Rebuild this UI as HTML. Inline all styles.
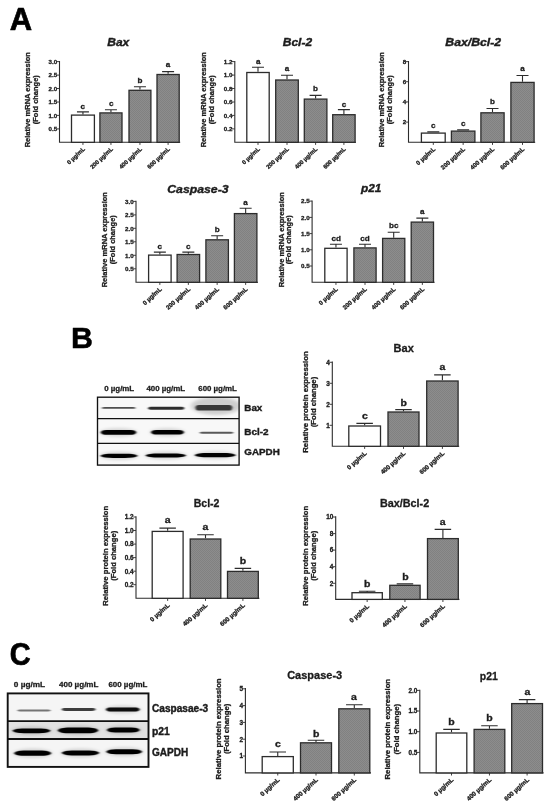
<!DOCTYPE html>
<html lang="en"><head><meta charset="utf-8"><title>Figure</title>
<style>
html,body{margin:0;padding:0;background:#fff;}
svg{display:block;filter:blur(0.35px);}
text{font-family:"Liberation Sans",Arial,Helvetica,sans-serif;fill:#1c1c1c;}
.b{font-weight:700;stroke:#1c1c1c;stroke-width:0.3px;}
.bi{font-weight:700;font-style:italic;stroke:#1c1c1c;stroke-width:0.4px;}
.big{font-weight:700;fill:#000;stroke:#000;stroke-width:0.7px;stroke-linejoin:round;}
</style></head><body>
<svg width="550" height="808" viewBox="0 0 550 808">
<defs>
<pattern id="hatch" width="2" height="2" patternUnits="userSpaceOnUse">
<rect width="2" height="2" fill="#8d8d8d"/>
<rect width="1" height="1" fill="#818181"/>
<rect x="1" y="1" width="1" height="1" fill="#818181"/>
</pattern>
<filter id="bl1" x="-20%" y="-100%" width="140%" height="300%"><feGaussianBlur stdDeviation="0.9 0.7"/></filter>
<filter id="bl2" x="-20%" y="-100%" width="140%" height="300%"><feGaussianBlur stdDeviation="1.3 0.9"/></filter>
<filter id="bl3" x="-60%" y="-200%" width="220%" height="500%"><feGaussianBlur stdDeviation="2.2 1.8"/></filter>
<clipPath id="clipB1"><rect x="97.5" y="397.2" width="141.6" height="21.3"/></clipPath>
<linearGradient id="bgB" x1="0" y1="0" x2="0" y2="1"><stop offset="0" stop-color="#ededed"/><stop offset="1" stop-color="#f4f4f4"/></linearGradient>
</defs>
<rect width="550" height="808" fill="#fff"/>

<text x="9.8" y="30" font-size="31.6" class="big" textLength="22.4" lengthAdjust="spacingAndGlyphs">A</text>
<text x="70.9" y="348.3" font-size="30.4" class="big" style="stroke-width:0.5px">B</text>
<text x="9.8" y="665.2" font-size="31.4" class="big" textLength="20.9" lengthAdjust="spacingAndGlyphs">C</text>
<g><path d="M59.5 61.0V142.3H180.2" fill="none" stroke="#2c2c2c" stroke-width="1.1"/>
<path d="M56.7 61.6H59.5" stroke="#2c2c2c" stroke-width="0.9"/>
<text x="57.10" y="63.83" font-size="6.2" text-anchor="end" class="b">3.0</text>
<path d="M56.7 75.1H59.5" stroke="#2c2c2c" stroke-width="0.9"/>
<text x="57.10" y="77.33" font-size="6.2" text-anchor="end" class="b">2.5</text>
<path d="M56.7 88.5H59.5" stroke="#2c2c2c" stroke-width="0.9"/>
<text x="57.10" y="90.73" font-size="6.2" text-anchor="end" class="b">2.0</text>
<path d="M56.7 102H59.5" stroke="#2c2c2c" stroke-width="0.9"/>
<text x="57.10" y="104.23" font-size="6.2" text-anchor="end" class="b">1.5</text>
<path d="M56.7 115.4H59.5" stroke="#2c2c2c" stroke-width="0.9"/>
<text x="57.10" y="117.63" font-size="6.2" text-anchor="end" class="b">1.0</text>
<path d="M56.7 128.9H59.5" stroke="#2c2c2c" stroke-width="0.9"/>
<text x="57.10" y="131.13" font-size="6.2" text-anchor="end" class="b">0.5</text>
<path d="M82.95 114.4V111.9M76.95 111.9H88.95" stroke="#2c2c2c" stroke-width="1.1" fill="none"/>
<rect x="71.50" y="115.10" width="22.90" height="27.20" fill="#fff" stroke="#2c2c2c" stroke-width="1.3"/>
<path d="M82.95 142.3V144.9" stroke="#2c2c2c" stroke-width="0.9"/>
<path d="M110.95 112.2V109.7M104.95 109.7H116.95" stroke="#2c2c2c" stroke-width="1.1" fill="none"/>
<rect x="99.90" y="112.90" width="22.10" height="29.40" fill="url(#hatch)" stroke="#2c2c2c" stroke-width="1.3"/>
<path d="M110.95 142.3V144.9" stroke="#2c2c2c" stroke-width="0.9"/>
<path d="M139.95 89.6V86.7M133.95 86.7H145.95" stroke="#2c2c2c" stroke-width="1.1" fill="none"/>
<rect x="129.00" y="90.30" width="21.90" height="52.00" fill="url(#hatch)" stroke="#2c2c2c" stroke-width="1.3"/>
<path d="M139.95 142.3V144.9" stroke="#2c2c2c" stroke-width="0.9"/>
<path d="M168.10 73.8V71.6M162.10 71.6H174.10" stroke="#2c2c2c" stroke-width="1.1" fill="none"/>
<rect x="157.00" y="74.50" width="22.20" height="67.80" fill="url(#hatch)" stroke="#2c2c2c" stroke-width="1.3"/>
<path d="M168.10 142.3V144.9" stroke="#2c2c2c" stroke-width="0.9"/>
<text transform="translate(82.35 146.5) rotate(-43.5)" font-size="5.85" text-anchor="end" class="b" dy="0.72em">0 µg/mL</text>
<text transform="translate(110.35 146.5) rotate(-43.5)" font-size="5.85" text-anchor="end" class="b" dy="0.72em">200 µg/mL</text>
<text transform="translate(139.35 146.5) rotate(-43.5)" font-size="5.85" text-anchor="end" class="b" dy="0.72em">400 µg/mL</text>
<text transform="translate(167.50 146.5) rotate(-43.5)" font-size="5.85" text-anchor="end" class="b" dy="0.72em">600 µg/mL</text>
<text transform="translate(82.8 108.7) scale(1.08 1)" font-size="7.5" text-anchor="middle" class="b">c</text>
<text transform="translate(111.2 105.7) scale(1.08 1)" font-size="7.5" text-anchor="middle" class="b">c</text>
<text transform="translate(139.9 83.2) scale(1.08 1)" font-size="7.5" text-anchor="middle" class="b">b</text>
<text transform="translate(168 67) scale(1.08 1)" font-size="7.5" text-anchor="middle" class="b">a</text>
<text x="118.3" y="45.8" font-size="11.3" text-anchor="middle" class="bi" textLength="22" lengthAdjust="spacingAndGlyphs">Bax</text>
<text transform="translate(30.2 99.7) rotate(-90)" font-size="7.5" text-anchor="middle" class="b" textLength="95.3" lengthAdjust="spacingAndGlyphs">Relative mRNA expression</text>
<text transform="translate(38 99.7) rotate(-90)" font-size="7.5" text-anchor="middle" class="b" textLength="49" lengthAdjust="spacingAndGlyphs">(Fold change)</text></g>
<g><path d="M234.8 61.0V142.3H356" fill="none" stroke="#2c2c2c" stroke-width="1.1"/>
<path d="M232.0 61.6H234.8" stroke="#2c2c2c" stroke-width="0.9"/>
<text x="232.40" y="63.83" font-size="6.2" text-anchor="end" class="b">1.2</text>
<path d="M232.0 75.1H234.8" stroke="#2c2c2c" stroke-width="0.9"/>
<text x="232.40" y="77.33" font-size="6.2" text-anchor="end" class="b">1.0</text>
<path d="M232.0 88.5H234.8" stroke="#2c2c2c" stroke-width="0.9"/>
<text x="232.40" y="90.73" font-size="6.2" text-anchor="end" class="b">0.8</text>
<path d="M232.0 102H234.8" stroke="#2c2c2c" stroke-width="0.9"/>
<text x="232.40" y="104.23" font-size="6.2" text-anchor="end" class="b">0.6</text>
<path d="M232.0 115.4H234.8" stroke="#2c2c2c" stroke-width="0.9"/>
<text x="232.40" y="117.63" font-size="6.2" text-anchor="end" class="b">0.4</text>
<path d="M232.0 128.9H234.8" stroke="#2c2c2c" stroke-width="0.9"/>
<text x="232.40" y="131.13" font-size="6.2" text-anchor="end" class="b">0.2</text>
<path d="M258.00 71.8V67.2M252.00 67.2H264.00" stroke="#2c2c2c" stroke-width="1.1" fill="none"/>
<rect x="246.80" y="72.50" width="22.40" height="69.80" fill="#fff" stroke="#2c2c2c" stroke-width="1.3"/>
<path d="M258.00 142.3V144.9" stroke="#2c2c2c" stroke-width="0.9"/>
<path d="M287.00 79.3V75.2M281.00 75.2H293.00" stroke="#2c2c2c" stroke-width="1.1" fill="none"/>
<rect x="275.70" y="80.00" width="22.60" height="62.30" fill="url(#hatch)" stroke="#2c2c2c" stroke-width="1.3"/>
<path d="M287.00 142.3V144.9" stroke="#2c2c2c" stroke-width="0.9"/>
<path d="M315.60 98.4V95.4M309.60 95.4H321.60" stroke="#2c2c2c" stroke-width="1.1" fill="none"/>
<rect x="304.30" y="99.10" width="22.60" height="43.20" fill="url(#hatch)" stroke="#2c2c2c" stroke-width="1.3"/>
<path d="M315.60 142.3V144.9" stroke="#2c2c2c" stroke-width="0.9"/>
<path d="M343.90 114V109.6M337.90 109.6H349.90" stroke="#2c2c2c" stroke-width="1.1" fill="none"/>
<rect x="332.70" y="114.70" width="22.40" height="27.60" fill="url(#hatch)" stroke="#2c2c2c" stroke-width="1.3"/>
<path d="M343.90 142.3V144.9" stroke="#2c2c2c" stroke-width="0.9"/>
<text transform="translate(257.40 146.5) rotate(-43.5)" font-size="5.85" text-anchor="end" class="b" dy="0.72em">0 µg/mL</text>
<text transform="translate(286.40 146.5) rotate(-43.5)" font-size="5.85" text-anchor="end" class="b" dy="0.72em">200 µg/mL</text>
<text transform="translate(315.00 146.5) rotate(-43.5)" font-size="5.85" text-anchor="end" class="b" dy="0.72em">400 µg/mL</text>
<text transform="translate(343.30 146.5) rotate(-43.5)" font-size="5.85" text-anchor="end" class="b" dy="0.72em">600 µg/mL</text>
<text transform="translate(258.2 63.7) scale(1.08 1)" font-size="7.5" text-anchor="middle" class="b">a</text>
<text transform="translate(287 71.1) scale(1.08 1)" font-size="7.5" text-anchor="middle" class="b">a</text>
<text transform="translate(315.5 90.9) scale(1.08 1)" font-size="7.5" text-anchor="middle" class="b">b</text>
<text transform="translate(343.9 107.2) scale(1.08 1)" font-size="7.5" text-anchor="middle" class="b">c</text>
<text x="297.4" y="45.8" font-size="11.3" text-anchor="middle" class="bi" textLength="29.3" lengthAdjust="spacingAndGlyphs">Bcl-2</text>
<text transform="translate(205.7 99.7) rotate(-90)" font-size="7.5" text-anchor="middle" class="b" textLength="95.3" lengthAdjust="spacingAndGlyphs">Relative mRNA expression</text>
<text transform="translate(213.8 99.7) rotate(-90)" font-size="7.5" text-anchor="middle" class="b" textLength="49" lengthAdjust="spacingAndGlyphs">(Fold change)</text></g>
<g><path d="M408.5 60.9V142.3H535.2" fill="none" stroke="#2c2c2c" stroke-width="1.1"/>
<path d="M405.7 61.6H408.5" stroke="#2c2c2c" stroke-width="0.9"/>
<text x="406.10" y="63.83" font-size="6.2" text-anchor="end" class="b">8</text>
<path d="M405.7 81.7H408.5" stroke="#2c2c2c" stroke-width="0.9"/>
<text x="406.10" y="83.93" font-size="6.2" text-anchor="end" class="b">6</text>
<path d="M405.7 101.9H408.5" stroke="#2c2c2c" stroke-width="0.9"/>
<text x="406.10" y="104.13" font-size="6.2" text-anchor="end" class="b">4</text>
<path d="M405.7 122.1H408.5" stroke="#2c2c2c" stroke-width="0.9"/>
<text x="406.10" y="124.33" font-size="6.2" text-anchor="end" class="b">2</text>
<path d="M433.30 132.4V131.9M427.30 131.9H439.30" stroke="#2c2c2c" stroke-width="1.1" fill="none"/>
<rect x="421.40" y="133.10" width="23.80" height="9.20" fill="#fff" stroke="#2c2c2c" stroke-width="1.3"/>
<path d="M433.30 142.3V144.9" stroke="#2c2c2c" stroke-width="0.9"/>
<path d="M463.15 130.4V129.9M457.15 129.9H469.15" stroke="#2c2c2c" stroke-width="1.1" fill="none"/>
<rect x="451.40" y="131.10" width="23.50" height="11.20" fill="url(#hatch)" stroke="#2c2c2c" stroke-width="1.3"/>
<path d="M463.15 142.3V144.9" stroke="#2c2c2c" stroke-width="0.9"/>
<path d="M492.50 112.1V108.5M486.50 108.5H498.50" stroke="#2c2c2c" stroke-width="1.1" fill="none"/>
<rect x="480.90" y="112.80" width="23.20" height="29.50" fill="url(#hatch)" stroke="#2c2c2c" stroke-width="1.3"/>
<path d="M492.50 142.3V144.9" stroke="#2c2c2c" stroke-width="0.9"/>
<path d="M522.50 81.7V75.5M516.50 75.5H528.50" stroke="#2c2c2c" stroke-width="1.1" fill="none"/>
<rect x="510.90" y="82.40" width="23.20" height="59.90" fill="url(#hatch)" stroke="#2c2c2c" stroke-width="1.3"/>
<path d="M522.50 142.3V144.9" stroke="#2c2c2c" stroke-width="0.9"/>
<text transform="translate(432.70 146.5) rotate(-42)" font-size="6.15" text-anchor="end" class="b" dy="0.72em">0 µg/mL</text>
<text transform="translate(462.55 146.5) rotate(-42)" font-size="6.15" text-anchor="end" class="b" dy="0.72em">200 µg/mL</text>
<text transform="translate(491.90 146.5) rotate(-42)" font-size="6.15" text-anchor="end" class="b" dy="0.72em">400 µg/mL</text>
<text transform="translate(521.90 146.5) rotate(-42)" font-size="6.15" text-anchor="end" class="b" dy="0.72em">600 µg/mL</text>
<text transform="translate(433.2 128) scale(1.08 1)" font-size="7.5" text-anchor="middle" class="b">c</text>
<text transform="translate(463.2 126.1) scale(1.08 1)" font-size="7.5" text-anchor="middle" class="b">c</text>
<text transform="translate(492.5 104) scale(1.08 1)" font-size="7.5" text-anchor="middle" class="b">b</text>
<text transform="translate(522.4 70.6) scale(1.08 1)" font-size="7.5" text-anchor="middle" class="b">a</text>
<text x="473.2" y="45.8" font-size="11.3" text-anchor="middle" class="bi" textLength="55.8" lengthAdjust="spacingAndGlyphs">Bax/Bcl-2</text>
<text transform="translate(383.7 99.7) rotate(-90)" font-size="7.5" text-anchor="middle" class="b" textLength="95.3" lengthAdjust="spacingAndGlyphs">Relative mRNA expression</text>
<text transform="translate(391.7 99.7) rotate(-90)" font-size="7.5" text-anchor="middle" class="b" textLength="49" lengthAdjust="spacingAndGlyphs">(Fold change)</text></g>
<g><path d="M136 200.8V282.3H258" fill="none" stroke="#2c2c2c" stroke-width="1.1"/>
<path d="M133.2 201.4H136" stroke="#2c2c2c" stroke-width="0.9"/>
<text x="133.60" y="203.63" font-size="6.2" text-anchor="end" class="b">3.0</text>
<path d="M133.2 214.9H136" stroke="#2c2c2c" stroke-width="0.9"/>
<text x="133.60" y="217.13" font-size="6.2" text-anchor="end" class="b">2.5</text>
<path d="M133.2 228.3H136" stroke="#2c2c2c" stroke-width="0.9"/>
<text x="133.60" y="230.53" font-size="6.2" text-anchor="end" class="b">2.0</text>
<path d="M133.2 241.8H136" stroke="#2c2c2c" stroke-width="0.9"/>
<text x="133.60" y="244.03" font-size="6.2" text-anchor="end" class="b">1.5</text>
<path d="M133.2 255.3H136" stroke="#2c2c2c" stroke-width="0.9"/>
<text x="133.60" y="257.53" font-size="6.2" text-anchor="end" class="b">1.0</text>
<path d="M133.2 268.8H136" stroke="#2c2c2c" stroke-width="0.9"/>
<text x="133.60" y="271.03" font-size="6.2" text-anchor="end" class="b">0.5</text>
<path d="M159.85 254.4V252.1M153.85 252.1H165.85" stroke="#2c2c2c" stroke-width="1.1" fill="none"/>
<rect x="148.60" y="255.10" width="22.50" height="27.20" fill="#fff" stroke="#2c2c2c" stroke-width="1.3"/>
<path d="M159.85 282.3V284.90000000000003" stroke="#2c2c2c" stroke-width="0.9"/>
<path d="M188.35 253.8V252.1M182.35 252.1H194.35" stroke="#2c2c2c" stroke-width="1.1" fill="none"/>
<rect x="177.10" y="254.50" width="22.50" height="27.80" fill="url(#hatch)" stroke="#2c2c2c" stroke-width="1.3"/>
<path d="M188.35 282.3V284.90000000000003" stroke="#2c2c2c" stroke-width="0.9"/>
<path d="M217.15 239.1V235.8M211.15 235.8H223.15" stroke="#2c2c2c" stroke-width="1.1" fill="none"/>
<rect x="205.90" y="239.80" width="22.50" height="42.50" fill="url(#hatch)" stroke="#2c2c2c" stroke-width="1.3"/>
<path d="M217.15 282.3V284.90000000000003" stroke="#2c2c2c" stroke-width="0.9"/>
<path d="M245.65 212.9V208.3M239.65 208.3H251.65" stroke="#2c2c2c" stroke-width="1.1" fill="none"/>
<rect x="234.40" y="213.60" width="22.50" height="68.70" fill="url(#hatch)" stroke="#2c2c2c" stroke-width="1.3"/>
<path d="M245.65 282.3V284.90000000000003" stroke="#2c2c2c" stroke-width="0.9"/>
<text transform="translate(159.25 286.5) rotate(-42)" font-size="6.15" text-anchor="end" class="b" dy="0.72em">0 µg/mL</text>
<text transform="translate(187.75 286.5) rotate(-42)" font-size="6.15" text-anchor="end" class="b" dy="0.72em">200 µg/mL</text>
<text transform="translate(216.55 286.5) rotate(-42)" font-size="6.15" text-anchor="end" class="b" dy="0.72em">400 µg/mL</text>
<text transform="translate(245.05 286.5) rotate(-42)" font-size="6.15" text-anchor="end" class="b" dy="0.72em">600 µg/mL</text>
<text transform="translate(159.8 248.6) scale(1.08 1)" font-size="7.5" text-anchor="middle" class="b">c</text>
<text transform="translate(188.3 248.6) scale(1.08 1)" font-size="7.5" text-anchor="middle" class="b">c</text>
<text transform="translate(217.1 232.3) scale(1.08 1)" font-size="7.5" text-anchor="middle" class="b">b</text>
<text transform="translate(245.6 204.7) scale(1.08 1)" font-size="7.5" text-anchor="middle" class="b">a</text>
<text x="197.9" y="192.5" font-size="11.3" text-anchor="middle" class="bi" textLength="61.3" lengthAdjust="spacingAndGlyphs">Caspase-3</text>
<text transform="translate(107.1 239.7) rotate(-90)" font-size="7.5" text-anchor="middle" class="b" textLength="95.3" lengthAdjust="spacingAndGlyphs">Relative mRNA expression</text>
<text transform="translate(114.7 239.7) rotate(-90)" font-size="7.5" text-anchor="middle" class="b" textLength="49" lengthAdjust="spacingAndGlyphs">(Fold change)</text></g>
<g><path d="M312.1 200.5V282.3H434.6" fill="none" stroke="#2c2c2c" stroke-width="1.1"/>
<path d="M309.3 201.1H312.1" stroke="#2c2c2c" stroke-width="0.9"/>
<text x="309.70" y="203.33" font-size="6.2" text-anchor="end" class="b">2.5</text>
<path d="M309.3 217.4H312.1" stroke="#2c2c2c" stroke-width="0.9"/>
<text x="309.70" y="219.63" font-size="6.2" text-anchor="end" class="b">2.0</text>
<path d="M309.3 233.6H312.1" stroke="#2c2c2c" stroke-width="0.9"/>
<text x="309.70" y="235.83" font-size="6.2" text-anchor="end" class="b">1.5</text>
<path d="M309.3 249.8H312.1" stroke="#2c2c2c" stroke-width="0.9"/>
<text x="309.70" y="252.03" font-size="6.2" text-anchor="end" class="b">1.0</text>
<path d="M309.3 266H312.1" stroke="#2c2c2c" stroke-width="0.9"/>
<text x="309.70" y="268.23" font-size="6.2" text-anchor="end" class="b">0.5</text>
<path d="M335.95 247.6V244.3M329.95 244.3H341.95" stroke="#2c2c2c" stroke-width="1.1" fill="none"/>
<rect x="324.80" y="248.30" width="22.30" height="34.00" fill="#fff" stroke="#2c2c2c" stroke-width="1.3"/>
<path d="M335.95 282.3V284.90000000000003" stroke="#2c2c2c" stroke-width="0.9"/>
<path d="M365.00 247.2V244.3M359.00 244.3H371.00" stroke="#2c2c2c" stroke-width="1.1" fill="none"/>
<rect x="353.90" y="247.90" width="22.20" height="34.40" fill="url(#hatch)" stroke="#2c2c2c" stroke-width="1.3"/>
<path d="M365.00 282.3V284.90000000000003" stroke="#2c2c2c" stroke-width="0.9"/>
<path d="M393.70 237.7V232.2M387.70 232.2H399.70" stroke="#2c2c2c" stroke-width="1.1" fill="none"/>
<rect x="382.60" y="238.40" width="22.20" height="43.90" fill="url(#hatch)" stroke="#2c2c2c" stroke-width="1.3"/>
<path d="M393.70 282.3V284.90000000000003" stroke="#2c2c2c" stroke-width="0.9"/>
<path d="M422.35 221.4V218.1M416.35 218.1H428.35" stroke="#2c2c2c" stroke-width="1.1" fill="none"/>
<rect x="411.20" y="222.10" width="22.30" height="60.20" fill="url(#hatch)" stroke="#2c2c2c" stroke-width="1.3"/>
<path d="M422.35 282.3V284.90000000000003" stroke="#2c2c2c" stroke-width="0.9"/>
<text transform="translate(335.35 286.5) rotate(-42)" font-size="6.15" text-anchor="end" class="b" dy="0.72em">0 µg/mL</text>
<text transform="translate(364.40 286.5) rotate(-42)" font-size="6.15" text-anchor="end" class="b" dy="0.72em">200 µg/mL</text>
<text transform="translate(393.10 286.5) rotate(-42)" font-size="6.15" text-anchor="end" class="b" dy="0.72em">400 µg/mL</text>
<text transform="translate(421.75 286.5) rotate(-42)" font-size="6.15" text-anchor="end" class="b" dy="0.72em">600 µg/mL</text>
<text transform="translate(336.3 241) scale(1.08 1)" font-size="7.5" text-anchor="middle" class="b">cd</text>
<text transform="translate(365 241) scale(1.08 1)" font-size="7.5" text-anchor="middle" class="b">cd</text>
<text transform="translate(393.7 228.3) scale(1.08 1)" font-size="7.5" text-anchor="middle" class="b">bc</text>
<text transform="translate(422.3 213.9) scale(1.08 1)" font-size="7.5" text-anchor="middle" class="b">a</text>
<text x="371.1" y="192" font-size="11.3" text-anchor="middle" class="bi" textLength="20.3" lengthAdjust="spacingAndGlyphs">p21</text>
<text transform="translate(283.7 239.7) rotate(-90)" font-size="7.5" text-anchor="middle" class="b" textLength="95.3" lengthAdjust="spacingAndGlyphs">Relative mRNA expression</text>
<text transform="translate(291.4 239.7) rotate(-90)" font-size="7.5" text-anchor="middle" class="b" textLength="49" lengthAdjust="spacingAndGlyphs">(Fold change)</text></g>
<g><path d="M332.3 361.5V446.3H459.2" fill="none" stroke="#2c2c2c" stroke-width="1.1"/>
<path d="M329.5 362.3H332.3" stroke="#2c2c2c" stroke-width="0.9"/>
<text x="329.90" y="364.60" font-size="6.4" text-anchor="end" class="b">4</text>
<path d="M329.5 383.3H332.3" stroke="#2c2c2c" stroke-width="0.9"/>
<text x="329.90" y="385.60" font-size="6.4" text-anchor="end" class="b">3</text>
<path d="M329.5 404.3H332.3" stroke="#2c2c2c" stroke-width="0.9"/>
<text x="329.90" y="406.60" font-size="6.4" text-anchor="end" class="b">2</text>
<path d="M329.5 425.3H332.3" stroke="#2c2c2c" stroke-width="0.9"/>
<text x="329.90" y="427.60" font-size="6.4" text-anchor="end" class="b">1</text>
<path d="M364.65 425.3V423.4M356.40 423.4H372.90" stroke="#2c2c2c" stroke-width="1.1" fill="none"/>
<rect x="348.80" y="426.00" width="31.70" height="20.30" fill="#fff" stroke="#2c2c2c" stroke-width="1.3"/>
<path d="M364.65 446.3V448.90000000000003" stroke="#2c2c2c" stroke-width="0.9"/>
<path d="M403.50 411.3V409.6M395.25 409.6H411.75" stroke="#2c2c2c" stroke-width="1.1" fill="none"/>
<rect x="388.00" y="412.00" width="31.00" height="34.30" fill="url(#hatch)" stroke="#2c2c2c" stroke-width="1.3"/>
<path d="M403.50 446.3V448.90000000000003" stroke="#2c2c2c" stroke-width="0.9"/>
<path d="M442.40 380.3V374.9M434.15 374.9H450.65" stroke="#2c2c2c" stroke-width="1.1" fill="none"/>
<rect x="426.70" y="381.00" width="31.40" height="65.30" fill="url(#hatch)" stroke="#2c2c2c" stroke-width="1.3"/>
<path d="M442.40 446.3V448.90000000000003" stroke="#2c2c2c" stroke-width="0.9"/>
<text transform="translate(364.05 450.5) rotate(-42)" font-size="6.3" text-anchor="end" class="b" dy="0.72em">0 µg/mL</text>
<text transform="translate(402.90 450.5) rotate(-42)" font-size="6.3" text-anchor="end" class="b" dy="0.72em">400 µg/mL</text>
<text transform="translate(441.80 450.5) rotate(-42)" font-size="6.3" text-anchor="end" class="b" dy="0.72em">600 µg/mL</text>
<text transform="translate(364.9 418.8) scale(1.22 1)" font-size="8.6" text-anchor="middle" class="b">c</text>
<text transform="translate(403.6 405.8) scale(1.22 1)" font-size="8.6" text-anchor="middle" class="b">b</text>
<text transform="translate(442.5 369.7) scale(1.22 1)" font-size="8.6" text-anchor="middle" class="b">a</text>
<text x="403.7" y="351.8" font-size="11" text-anchor="middle" class="b" textLength="20.2" lengthAdjust="spacingAndGlyphs">Bax</text>
<text transform="translate(308.3 402) rotate(-90)" font-size="7.7" text-anchor="middle" class="b" textLength="101.5" lengthAdjust="spacingAndGlyphs">Relative protein expression</text>
<text transform="translate(316.4 402) rotate(-90)" font-size="7.7" text-anchor="middle" class="b" textLength="50.4" lengthAdjust="spacingAndGlyphs">(Fold change)</text></g>
<g><path d="M136 516.3V598.3H259.4" fill="none" stroke="#2c2c2c" stroke-width="1.1"/>
<path d="M133.2 517H136" stroke="#2c2c2c" stroke-width="0.9"/>
<text x="133.60" y="519.30" font-size="6.4" text-anchor="end" class="b">1.2</text>
<path d="M133.2 530.5H136" stroke="#2c2c2c" stroke-width="0.9"/>
<text x="133.60" y="532.80" font-size="6.4" text-anchor="end" class="b">1.0</text>
<path d="M133.2 544.1H136" stroke="#2c2c2c" stroke-width="0.9"/>
<text x="133.60" y="546.40" font-size="6.4" text-anchor="end" class="b">0.8</text>
<path d="M133.2 557.6H136" stroke="#2c2c2c" stroke-width="0.9"/>
<text x="133.60" y="559.90" font-size="6.4" text-anchor="end" class="b">0.6</text>
<path d="M133.2 571.2H136" stroke="#2c2c2c" stroke-width="0.9"/>
<text x="133.60" y="573.50" font-size="6.4" text-anchor="end" class="b">0.4</text>
<path d="M133.2 584.7H136" stroke="#2c2c2c" stroke-width="0.9"/>
<text x="133.60" y="587.00" font-size="6.4" text-anchor="end" class="b">0.2</text>
<path d="M167.65 530.7V528.1M159.40 528.1H175.90" stroke="#2c2c2c" stroke-width="1.1" fill="none"/>
<rect x="152.20" y="531.40" width="30.90" height="66.90" fill="#fff" stroke="#2c2c2c" stroke-width="1.3"/>
<path d="M167.65 598.3V600.9" stroke="#2c2c2c" stroke-width="0.9"/>
<path d="M205.50 538.3V534.7M197.25 534.7H213.75" stroke="#2c2c2c" stroke-width="1.1" fill="none"/>
<rect x="190.20" y="539.00" width="30.60" height="59.30" fill="url(#hatch)" stroke="#2c2c2c" stroke-width="1.3"/>
<path d="M205.50 598.3V600.9" stroke="#2c2c2c" stroke-width="0.9"/>
<path d="M242.90 570.7V568.4M234.65 568.4H251.15" stroke="#2c2c2c" stroke-width="1.1" fill="none"/>
<rect x="227.50" y="571.40" width="30.80" height="26.90" fill="url(#hatch)" stroke="#2c2c2c" stroke-width="1.3"/>
<path d="M242.90 598.3V600.9" stroke="#2c2c2c" stroke-width="0.9"/>
<text transform="translate(167.05 602.5) rotate(-42)" font-size="6.3" text-anchor="end" class="b" dy="0.72em">0 µg/mL</text>
<text transform="translate(204.90 602.5) rotate(-42)" font-size="6.3" text-anchor="end" class="b" dy="0.72em">400 µg/mL</text>
<text transform="translate(242.30 602.5) rotate(-42)" font-size="6.3" text-anchor="end" class="b" dy="0.72em">600 µg/mL</text>
<text transform="translate(167.6 523.3) scale(1.22 1)" font-size="8.6" text-anchor="middle" class="b">a</text>
<text transform="translate(205.4 529.6) scale(1.22 1)" font-size="8.6" text-anchor="middle" class="b">a</text>
<text transform="translate(242.9 564) scale(1.22 1)" font-size="8.6" text-anchor="middle" class="b">b</text>
<text x="206.6" y="506.8" font-size="11" text-anchor="middle" class="b" textLength="25.8" lengthAdjust="spacingAndGlyphs">Bcl-2</text>
<text transform="translate(108.2 555.8) rotate(-90)" font-size="7.7" text-anchor="middle" class="b" textLength="99.8" lengthAdjust="spacingAndGlyphs">Relative protein expression</text>
<text transform="translate(116.3 555.8) rotate(-90)" font-size="7.7" text-anchor="middle" class="b" textLength="50" lengthAdjust="spacingAndGlyphs">(Fold change)</text></g>
<g><path d="M335.7 516.3V599.4H459.4" fill="none" stroke="#2c2c2c" stroke-width="1.1"/>
<path d="M332.9 517H335.7" stroke="#2c2c2c" stroke-width="0.9"/>
<text x="333.30" y="519.30" font-size="6.4" text-anchor="end" class="b">10</text>
<path d="M332.9 533.6H335.7" stroke="#2c2c2c" stroke-width="0.9"/>
<text x="333.30" y="535.90" font-size="6.4" text-anchor="end" class="b">8</text>
<path d="M332.9 550.1H335.7" stroke="#2c2c2c" stroke-width="0.9"/>
<text x="333.30" y="552.40" font-size="6.4" text-anchor="end" class="b">6</text>
<path d="M332.9 566.7H335.7" stroke="#2c2c2c" stroke-width="0.9"/>
<text x="333.30" y="569.00" font-size="6.4" text-anchor="end" class="b">4</text>
<path d="M332.9 583.3H335.7" stroke="#2c2c2c" stroke-width="0.9"/>
<text x="333.30" y="585.60" font-size="6.4" text-anchor="end" class="b">2</text>
<path d="M367.15 592V591.2M358.90 591.2H375.40" stroke="#2c2c2c" stroke-width="1.1" fill="none"/>
<rect x="352.00" y="592.70" width="30.30" height="6.70" fill="#fff" stroke="#2c2c2c" stroke-width="1.3"/>
<path d="M367.15 599.4V602.0" stroke="#2c2c2c" stroke-width="0.9"/>
<path d="M404.95 584.6V583.9M396.70 583.9H413.20" stroke="#2c2c2c" stroke-width="1.1" fill="none"/>
<rect x="389.80" y="585.30" width="30.30" height="14.10" fill="url(#hatch)" stroke="#2c2c2c" stroke-width="1.3"/>
<path d="M404.95 599.4V602.0" stroke="#2c2c2c" stroke-width="0.9"/>
<path d="M442.90 537.9V529.4M434.65 529.4H451.15" stroke="#2c2c2c" stroke-width="1.1" fill="none"/>
<rect x="427.50" y="538.60" width="30.80" height="60.80" fill="url(#hatch)" stroke="#2c2c2c" stroke-width="1.3"/>
<path d="M442.90 599.4V602.0" stroke="#2c2c2c" stroke-width="0.9"/>
<text transform="translate(366.55 603.6) rotate(-42)" font-size="6.3" text-anchor="end" class="b" dy="0.72em">0 µg/mL</text>
<text transform="translate(404.35 603.6) rotate(-42)" font-size="6.3" text-anchor="end" class="b" dy="0.72em">400 µg/mL</text>
<text transform="translate(442.30 603.6) rotate(-42)" font-size="6.3" text-anchor="end" class="b" dy="0.72em">600 µg/mL</text>
<text transform="translate(367.3 587) scale(1.22 1)" font-size="8.6" text-anchor="middle" class="b">b</text>
<text transform="translate(405.4 580) scale(1.22 1)" font-size="8.6" text-anchor="middle" class="b">b</text>
<text transform="translate(442.7 525.2) scale(1.22 1)" font-size="8.6" text-anchor="middle" class="b">a</text>
<text x="404.6" y="507.3" font-size="11" text-anchor="middle" class="b" textLength="49.2" lengthAdjust="spacingAndGlyphs">Bax/Bcl-2</text>
<text transform="translate(308.2 555.8) rotate(-90)" font-size="7.7" text-anchor="middle" class="b" textLength="99.8" lengthAdjust="spacingAndGlyphs">Relative protein expression</text>
<text transform="translate(316.3 555.8) rotate(-90)" font-size="7.7" text-anchor="middle" class="b" textLength="50" lengthAdjust="spacingAndGlyphs">(Fold change)</text></g>
<g><path d="M245.4 688.1V772.9H371" fill="none" stroke="#2c2c2c" stroke-width="1.1"/>
<path d="M242.6 688.8H245.4" stroke="#2c2c2c" stroke-width="0.9"/>
<text x="243.00" y="691.10" font-size="6.4" text-anchor="end" class="b">5</text>
<path d="M242.6 705.6H245.4" stroke="#2c2c2c" stroke-width="0.9"/>
<text x="243.00" y="707.90" font-size="6.4" text-anchor="end" class="b">4</text>
<path d="M242.6 722.4H245.4" stroke="#2c2c2c" stroke-width="0.9"/>
<text x="243.00" y="724.70" font-size="6.4" text-anchor="end" class="b">3</text>
<path d="M242.6 739.2H245.4" stroke="#2c2c2c" stroke-width="0.9"/>
<text x="243.00" y="741.50" font-size="6.4" text-anchor="end" class="b">2</text>
<path d="M242.6 756H245.4" stroke="#2c2c2c" stroke-width="0.9"/>
<text x="243.00" y="758.30" font-size="6.4" text-anchor="end" class="b">1</text>
<path d="M277.75 755.9V752M269.50 752H286.00" stroke="#2c2c2c" stroke-width="1.1" fill="none"/>
<rect x="262.20" y="756.60" width="31.10" height="16.30" fill="#fff" stroke="#2c2c2c" stroke-width="1.3"/>
<path d="M277.75 772.9V775.5" stroke="#2c2c2c" stroke-width="0.9"/>
<path d="M316.00 742.1V740.2M307.75 740.2H324.25" stroke="#2c2c2c" stroke-width="1.1" fill="none"/>
<rect x="300.50" y="742.80" width="31.00" height="30.10" fill="url(#hatch)" stroke="#2c2c2c" stroke-width="1.3"/>
<path d="M316.00 772.9V775.5" stroke="#2c2c2c" stroke-width="0.9"/>
<path d="M354.30 708.1V704.8M346.05 704.8H362.55" stroke="#2c2c2c" stroke-width="1.1" fill="none"/>
<rect x="338.80" y="708.80" width="31.00" height="64.10" fill="url(#hatch)" stroke="#2c2c2c" stroke-width="1.3"/>
<path d="M354.30 772.9V775.5" stroke="#2c2c2c" stroke-width="0.9"/>
<text transform="translate(277.15 777.1) rotate(-42)" font-size="6.3" text-anchor="end" class="b" dy="0.72em">0 µg/mL</text>
<text transform="translate(315.40 777.1) rotate(-42)" font-size="6.3" text-anchor="end" class="b" dy="0.72em">400 µg/mL</text>
<text transform="translate(353.70 777.1) rotate(-42)" font-size="6.3" text-anchor="end" class="b" dy="0.72em">600 µg/mL</text>
<text transform="translate(277.8 747.4) scale(1.22 1)" font-size="8.6" text-anchor="middle" class="b">c</text>
<text transform="translate(316.1 736.5) scale(1.22 1)" font-size="8.6" text-anchor="middle" class="b">b</text>
<text transform="translate(354 700.4) scale(1.22 1)" font-size="8.6" text-anchor="middle" class="b">a</text>
<text x="314.7" y="678.7" font-size="11" text-anchor="middle" class="b" textLength="55" lengthAdjust="spacingAndGlyphs">Caspase-3</text>
<text transform="translate(221.1 728.9) rotate(-90)" font-size="7.7" text-anchor="middle" class="b" textLength="101" lengthAdjust="spacingAndGlyphs">Relative protein expression</text>
<text transform="translate(229.2 728.9) rotate(-90)" font-size="7.7" text-anchor="middle" class="b" textLength="50.4" lengthAdjust="spacingAndGlyphs">(Fold change)</text></g>
<g><path d="M419.8 689.7V772.9H543.6" fill="none" stroke="#2c2c2c" stroke-width="1.1"/>
<path d="M417.0 690.4H419.8" stroke="#2c2c2c" stroke-width="0.9"/>
<text x="417.40" y="692.70" font-size="6.4" text-anchor="end" class="b">2.0</text>
<path d="M417.0 711H419.8" stroke="#2c2c2c" stroke-width="0.9"/>
<text x="417.40" y="713.30" font-size="6.4" text-anchor="end" class="b">1.5</text>
<path d="M417.0 731.7H419.8" stroke="#2c2c2c" stroke-width="0.9"/>
<text x="417.40" y="734.00" font-size="6.4" text-anchor="end" class="b">1.0</text>
<path d="M417.0 752.4H419.8" stroke="#2c2c2c" stroke-width="0.9"/>
<text x="417.40" y="754.70" font-size="6.4" text-anchor="end" class="b">0.5</text>
<path d="M451.50 732.3V729.4M443.25 729.4H459.75" stroke="#2c2c2c" stroke-width="1.1" fill="none"/>
<rect x="436.20" y="733.00" width="30.60" height="39.90" fill="#fff" stroke="#2c2c2c" stroke-width="1.3"/>
<path d="M451.50 772.9V775.5" stroke="#2c2c2c" stroke-width="0.9"/>
<path d="M489.45 728.7V725.8M481.20 725.8H497.70" stroke="#2c2c2c" stroke-width="1.1" fill="none"/>
<rect x="474.10" y="729.40" width="30.70" height="43.50" fill="url(#hatch)" stroke="#2c2c2c" stroke-width="1.3"/>
<path d="M489.45 772.9V775.5" stroke="#2c2c2c" stroke-width="0.9"/>
<path d="M527.10 702.9V699.6M518.85 699.6H535.35" stroke="#2c2c2c" stroke-width="1.1" fill="none"/>
<rect x="511.70" y="703.60" width="30.80" height="69.30" fill="url(#hatch)" stroke="#2c2c2c" stroke-width="1.3"/>
<path d="M527.10 772.9V775.5" stroke="#2c2c2c" stroke-width="0.9"/>
<text transform="translate(450.90 777.1) rotate(-42)" font-size="6.3" text-anchor="end" class="b" dy="0.72em">0 µg/mL</text>
<text transform="translate(488.85 777.1) rotate(-42)" font-size="6.3" text-anchor="end" class="b" dy="0.72em">400 µg/mL</text>
<text transform="translate(526.50 777.1) rotate(-42)" font-size="6.3" text-anchor="end" class="b" dy="0.72em">600 µg/mL</text>
<text transform="translate(451.4 725) scale(1.22 1)" font-size="8.6" text-anchor="middle" class="b">b</text>
<text transform="translate(489.5 721.4) scale(1.22 1)" font-size="8.6" text-anchor="middle" class="b">b</text>
<text transform="translate(527.4 695) scale(1.22 1)" font-size="8.6" text-anchor="middle" class="b">a</text>
<text x="488.8" y="679.8" font-size="11" text-anchor="middle" class="b" textLength="18" lengthAdjust="spacingAndGlyphs">p21</text>
<text transform="translate(390.4 729.2) rotate(-90)" font-size="7.7" text-anchor="middle" class="b" textLength="100.5" lengthAdjust="spacingAndGlyphs">Relative protein expression</text>
<text transform="translate(398.6 729.2) rotate(-90)" font-size="7.7" text-anchor="middle" class="b" textLength="50.4" lengthAdjust="spacingAndGlyphs">(Fold change)</text></g>
<rect x="97.5" y="397.2" width="141.6" height="67.90000000000003" fill="#f8f8f8"/>
<ellipse cx="216" cy="406" rx="25" ry="9" fill="#000" opacity="0.17" filter="url(#bl3)" clip-path="url(#clipB1)"/>
<path d="M101.70 407.90C102.04 407.23 103.40 406.95 105.10 406.95H132.30C134.00 406.95 135.36 407.23 135.70 407.90C135.36 408.56 134.00 408.85 132.30 408.85H105.10C103.40 408.85 102.04 408.56 101.70 407.90Z" fill="#333" opacity="0.85" filter="url(#bl1)"/>
<path d="M147.95 408.20C148.31 407.15 149.77 406.70 151.60 406.70H180.80C182.62 406.70 184.08 407.15 184.45 408.20C184.08 409.25 182.62 409.70 180.80 409.70H151.60C149.77 409.70 148.31 409.25 147.95 408.20Z" fill="#222" opacity="0.95" filter="url(#bl1)"/>
<path d="M195.40 407.70C195.70 405.74 196.88 404.90 198.36 404.90H229.44C230.92 404.90 232.10 405.74 232.40 407.70C232.10 409.66 230.92 410.50 229.44 410.50H198.36C196.88 410.50 195.70 409.66 195.40 407.70Z" fill="#383838" opacity="1" filter="url(#bl1)"/>
<ellipse cx="118.5" cy="432.4" rx="18.75" ry="4.40" fill="#000" opacity="0.13" filter="url(#bl3)"/>
<path d="M100.75 432.40C101.28 430.72 103.39 430.00 106.03 430.00H130.97C133.61 430.00 135.72 430.72 136.25 432.40C135.72 434.08 133.61 434.80 130.97 434.80H106.03C103.39 434.80 101.28 434.08 100.75 432.40Z" fill="#050505" opacity="1" filter="url(#bl1)"/>
<ellipse cx="167.5" cy="432.3" rx="17.50" ry="4.30" fill="#000" opacity="0.13" filter="url(#bl3)"/>
<path d="M151.00 432.30C151.51 430.69 153.53 430.00 156.06 430.00H178.94C181.47 430.00 183.49 430.69 184.00 432.30C183.49 433.91 181.47 434.60 178.94 434.60H156.06C153.53 434.60 151.51 433.91 151.00 432.30Z" fill="#050505" opacity="1" filter="url(#bl1)"/>
<path d="M199.50 432.80C199.84 432.13 201.20 431.85 202.90 431.85H230.10C231.80 431.85 233.16 432.13 233.50 432.80C233.16 433.47 231.80 433.75 230.10 433.75H202.90C201.20 433.75 199.84 433.47 199.50 432.80Z" fill="#333" opacity="0.8" filter="url(#bl1)"/>
<ellipse cx="119" cy="455.8" rx="19.75" ry="4.15" fill="#000" opacity="0.13" filter="url(#bl3)"/>
<path d="M100.25 455.80C101.45 454.30 106.25 453.65 112.25 453.65H125.75C131.75 453.65 136.55 454.30 137.75 455.80C136.55 457.31 131.75 457.95 125.75 457.95H112.25C106.25 457.95 101.45 457.31 100.25 455.80Z" fill="#050505" opacity="1" filter="url(#bl1)"/>
<ellipse cx="165.8" cy="455.5" rx="21.25" ry="4.05" fill="#000" opacity="0.13" filter="url(#bl3)"/>
<path d="M145.55 455.50C146.85 454.06 152.03 453.45 158.51 453.45H173.09C179.57 453.45 184.75 454.06 186.05 455.50C184.75 456.94 179.57 457.55 173.09 457.55H158.51C152.03 457.55 146.85 456.94 145.55 455.50Z" fill="#050505" opacity="1" filter="url(#bl1)"/>
<ellipse cx="215.2" cy="455.2" rx="21.50" ry="4.10" fill="#000" opacity="0.13" filter="url(#bl3)"/>
<path d="M194.70 455.20C196.01 453.73 201.26 453.10 207.82 453.10H222.58C229.14 453.10 234.39 453.73 235.70 455.20C234.39 456.67 229.14 457.30 222.58 457.30H207.82C201.26 457.30 196.01 456.67 194.70 455.20Z" fill="#050505" opacity="1" filter="url(#bl1)"/>
<rect x="97.5" y="397.2" width="141.6" height="67.90000000000003" fill="none" stroke="#111" stroke-width="1.35"/>
<path d="M97.5 418.5H239.1" stroke="#111" stroke-width="1.25"/>
<path d="M97.5 443.3H239.1" stroke="#111" stroke-width="1.25"/>
<text x="119.2" y="390.8" font-size="7.9" text-anchor="middle" class="b" textLength="30" lengthAdjust="spacingAndGlyphs">0 µg/mL</text>
<text x="165.8" y="390.8" font-size="7.9" text-anchor="middle" class="b" textLength="38.7" lengthAdjust="spacingAndGlyphs">400 µg/mL</text>
<text x="217.6" y="390.8" font-size="7.9" text-anchor="middle" class="b" textLength="38.7" lengthAdjust="spacingAndGlyphs">600 µg/mL</text>
<text x="244.3" y="410.6" font-size="9.7" class="b" style="stroke-width:0.4px" textLength="18" lengthAdjust="spacingAndGlyphs">Bax</text>
<text x="244.3" y="434.6" font-size="9.7" class="b" style="stroke-width:0.4px" textLength="24.3" lengthAdjust="spacingAndGlyphs">Bcl-2</text>
<text x="244.3" y="455.3" font-size="9.7" class="b" style="stroke-width:0.4px" textLength="35.5" lengthAdjust="spacingAndGlyphs">GAPDH</text>
<rect x="7.7" y="693.4" width="140.8" height="73.5" fill="#f5f5f5"/>
<rect x="7.7" y="721.1" width="140.8" height="17.9" fill="#e2e2e2"/>
<path d="M17.25 710.40C17.59 709.70 18.93 709.40 20.60 709.40H47.40C49.08 709.40 50.41 709.70 50.75 710.40C50.41 711.10 49.08 711.40 47.40 711.40H20.60C18.93 711.40 17.59 711.10 17.25 710.40Z" fill="#555" opacity="0.8" filter="url(#bl1)"/>
<path d="M61.60 709.50C61.94 708.52 63.30 708.10 65.00 708.10H92.20C93.90 708.10 95.26 708.52 95.60 709.50C95.26 710.48 93.90 710.90 92.20 710.90H65.00C63.30 710.90 61.94 710.48 61.60 709.50Z" fill="#2a2a2a" opacity="0.9" filter="url(#bl1)"/>
<ellipse cx="122.8" cy="709.6" rx="17.80" ry="4.00" fill="#000" opacity="0.13" filter="url(#bl3)"/>
<path d="M106.00 709.60C106.44 708.20 108.20 707.60 110.40 707.60H135.20C137.40 707.60 139.16 708.20 139.60 709.60C139.16 711.00 137.40 711.60 135.20 711.60H110.40C108.20 711.60 106.44 711.00 106.00 709.60Z" fill="#080808" opacity="1" filter="url(#bl1)"/>
<ellipse cx="31.5" cy="730.8" rx="20.00" ry="4.35" fill="#000" opacity="0.13" filter="url(#bl3)"/>
<path d="M12.50 730.80C13.56 729.15 17.82 728.45 23.14 728.45H39.86C45.18 728.45 49.44 729.15 50.50 730.80C49.44 732.44 45.18 733.15 39.86 733.15H23.14C17.82 733.15 13.56 732.44 12.50 730.80Z" fill="#050505" opacity="1" filter="url(#bl1)"/>
<ellipse cx="78" cy="730.4" rx="21.25" ry="4.90" fill="#000" opacity="0.13" filter="url(#bl3)"/>
<path d="M57.75 730.40C58.88 728.37 63.42 727.50 69.09 727.50H86.91C92.58 727.50 97.12 728.37 98.25 730.40C97.12 732.43 92.58 733.30 86.91 733.30H69.09C63.42 733.30 58.88 732.43 57.75 730.40Z" fill="#050505" opacity="1" filter="url(#bl1)"/>
<ellipse cx="123.3" cy="730" rx="17.50" ry="4.50" fill="#000" opacity="0.13" filter="url(#bl3)"/>
<path d="M106.80 730.00C107.72 728.25 111.42 727.50 116.04 727.50H130.56C135.18 727.50 138.88 728.25 139.80 730.00C138.88 731.75 135.18 732.50 130.56 732.50H116.04C111.42 732.50 107.72 731.75 106.80 730.00Z" fill="#050505" opacity="1" filter="url(#bl1)"/>
<ellipse cx="32.7" cy="753.2" rx="19.50" ry="4.65" fill="#000" opacity="0.13" filter="url(#bl3)"/>
<path d="M14.20 753.20C15.24 751.35 19.38 750.55 24.56 750.55H40.84C46.02 750.55 50.16 751.35 51.20 753.20C50.16 755.06 46.02 755.85 40.84 755.85H24.56C19.38 755.85 15.24 755.06 14.20 753.20Z" fill="#050505" opacity="1" filter="url(#bl1)"/>
<ellipse cx="80.5" cy="753" rx="19.75" ry="4.45" fill="#000" opacity="0.13" filter="url(#bl3)"/>
<path d="M61.75 753.00C62.88 751.28 67.38 750.55 73.00 750.55H88.00C93.62 750.55 98.12 751.28 99.25 753.00C98.12 754.72 93.62 755.45 88.00 755.45H73.00C67.38 755.45 62.88 754.72 61.75 753.00Z" fill="#050505" opacity="1" filter="url(#bl1)"/>
<ellipse cx="124.2" cy="751.8" rx="19.00" ry="4.50" fill="#000" opacity="0.13" filter="url(#bl3)"/>
<path d="M106.20 751.80C107.28 750.05 111.60 749.30 117.00 749.30H131.40C136.80 749.30 141.12 750.05 142.20 751.80C141.12 753.55 136.80 754.30 131.40 754.30H117.00C111.60 754.30 107.28 753.55 106.20 751.80Z" fill="#050505" opacity="1" filter="url(#bl1)"/>
<rect x="7.7" y="693.4" width="140.8" height="73.5" fill="none" stroke="#111" stroke-width="1.9"/>
<path d="M7.7 721.1H148.5" stroke="#111" stroke-width="1.80"/>
<path d="M7.7 739H148.5" stroke="#111" stroke-width="1.80"/>
<text x="29.5" y="687.2" font-size="8.1" text-anchor="middle" class="b" textLength="31.3" lengthAdjust="spacingAndGlyphs">0 µg/mL</text>
<text x="78.7" y="687.2" font-size="8.1" text-anchor="middle" class="b" textLength="39.4" lengthAdjust="spacingAndGlyphs">400 µg/mL</text>
<text x="127.9" y="687.2" font-size="8.1" text-anchor="middle" class="b" textLength="39" lengthAdjust="spacingAndGlyphs">600 µg/mL</text>
<text x="152" y="712" font-size="10.4" class="b" style="stroke-width:0.4px" textLength="56.2" lengthAdjust="spacingAndGlyphs">Caspasae-3</text>
<text x="152" y="735.3" font-size="10.4" class="b" style="stroke-width:0.4px" textLength="17.8" lengthAdjust="spacingAndGlyphs">p21</text>
<text x="152" y="755.9" font-size="10.4" class="b" style="stroke-width:0.4px" textLength="36.2" lengthAdjust="spacingAndGlyphs">GAPDH</text>
</svg>
</body></html>
